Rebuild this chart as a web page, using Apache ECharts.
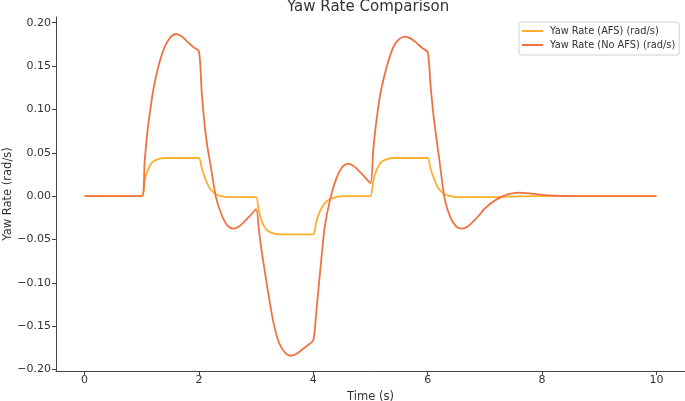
<!DOCTYPE html>
<html>
<head>
<meta charset="utf-8">
<script src="https://cdn.jsdelivr.net/npm/echarts@6/dist/echarts.min.js"></script>
<style>
    html, body { margin: 0; padding: 0; background: #fff; }
    #main { width: 685px; height: 401px; }
</style>
</head>
<body>
<div id="main"></div>
<script>
    // time samples (s), denser right after each steering switch
    var time_s = [
        0,
        1.0, 1.05, 1.1, 1.15, 1.2, 1.3, 1.4, 1.5, 1.6, 1.7, 1.8, 1.9,
        2.0, 2.05, 2.1, 2.15, 2.2, 2.3, 2.4, 2.5, 2.6, 2.7, 2.8, 2.9,
        3.0, 3.05, 3.1, 3.15, 3.2, 3.3, 3.4, 3.5, 3.6, 3.7, 3.8, 3.9,
        4.0, 4.05, 4.1, 4.15, 4.2, 4.3, 4.4, 4.5, 4.6, 4.7, 4.8, 4.9,
        5.0, 5.05, 5.1, 5.15, 5.2, 5.3, 5.4, 5.5, 5.6, 5.7, 5.8, 5.9,
        6.0, 6.05, 6.1, 6.15, 6.2, 6.3, 6.4, 6.5, 6.6, 6.7, 6.8, 6.9,
        7.0, 7.2, 7.4, 7.6, 7.8,
        8.0, 8.2, 8.4, 8.6,
        9.0, 10.0
    ];

    var yaw_afs = [
        0,
        0, 0.018, 0.029, 0.036, 0.040, 0.043, 0.044, 0.044, 0.044, 0.044, 0.044, 0.044,
        0.044, 0.032, 0.022, 0.014, 0.008, 0.002, 0.000, -0.001, -0.001, -0.001, -0.001, -0.001,
        -0.001, -0.018, -0.029, -0.036, -0.040, -0.043, -0.044, -0.044, -0.044, -0.044, -0.044, -0.044,
        -0.044, -0.030, -0.020, -0.013, -0.008, -0.003, -0.001, 0, 0, 0, 0, 0,
        0, 0.018, 0.029, 0.036, 0.040, 0.043, 0.044, 0.044, 0.044, 0.044, 0.044, 0.044,
        0.044, 0.032, 0.022, 0.014, 0.008, 0.002, 0.000, -0.001, -0.001, -0.001, -0.001, -0.001,
        -0.001, -0.001, -0.0005, -0.0003, 0,
        0, 0, 0, 0,
        0, 0
    ];

    var yaw_no_afs = [
        0,
        0, 0.040, 0.075, 0.100, 0.122, 0.152, 0.172, 0.183, 0.187, 0.184, 0.178, 0.172,
        0.167, 0.118, 0.082, 0.056, 0.037, -0.002, -0.022, -0.034, -0.0375, -0.035, -0.029, -0.022,
        -0.015, -0.040, -0.065, -0.086, -0.107, -0.145, -0.169, -0.180, -0.184, -0.182, -0.177, -0.172,
        -0.166, -0.135, -0.100, -0.066, -0.035, -0.002, 0.020, 0.033, 0.0375, 0.035, 0.029, 0.022,
        0.015, 0.055, 0.085, 0.109, 0.127, 0.153, 0.172, 0.181, 0.184, 0.182, 0.177, 0.171,
        0.166, 0.128, 0.094, 0.068, 0.044, -0.004, -0.025, -0.035, -0.0375, -0.035, -0.029, -0.022,
        -0.014, -0.004, 0.002, 0.004, 0.003,
        0.0015, 0.0005, 0.0002, 0,
        0, 0
    ];

    var x_ticks = [0, 2, 4, 6, 8, 10];
    var y_ticks = [-0.2, -0.15, -0.1, -0.05, 0, 0.05, 0.1, 0.15, 0.2];

    var font = 'DejaVu Sans';
    var text_color = '#333';
    var spine_color = '#444';

    function pairs(vals) {
        return time_s.map(function (t, i) { return [t, vals[i]]; });
    }

    var my_chart = echarts.init(document.getElementById('main'), null, { renderer: 'canvas' });
    var option = {
        backgroundColor: '#fff',
        animation: false,
        textStyle: { fontFamily: font, color: text_color },
        title: {
            text: 'Yaw Rate Comparison',
            left: 287,
            top: 0,
            padding: 0,
            textStyle: { fontFamily: font, fontSize: 15, fontWeight: 'normal', color: text_color }
        },
        legend: {
            orient: 'vertical',
            left: 519,
            top: 22,
            padding: [3, 4, 4, 3],
            itemGap: 2,
            itemWidth: 21,
            itemHeight: 2,
            icon: 'rect',
            borderColor: '#d0d0d0',
            borderWidth: 1,
            borderRadius: 3,
            backgroundColor: '#fff',
            textStyle: { fontFamily: font, fontSize: 9.8, color: text_color, lineHeight: 12, padding: [0, 0, 0, 2] }
        },
        grid: { left: 56, right: 0, top: 17, bottom: 30, containLabel: false, outerBoundsMode: 'none' },
        xAxis: {
            type: 'value',
            min: -0.5,
            max: 10.5,
            name: 'Time (s)',
            nameLocation: 'middle',
            nameGap: 20,
            nameMoveOverlap: false,
            nameTextStyle: { fontFamily: font, fontSize: 11.5, color: text_color },
            splitLine: { show: false },
            axisLine: { show: true, onZero: false, lineStyle: { color: spine_color, width: 1 } },
            axisTick: { show: true, inside: false, length: 4, customValues: x_ticks, lineStyle: { color: spine_color } },
            axisLabel: { customValues: x_ticks, margin: 4, fontFamily: font, fontSize: 11, color: text_color }
        },
        yAxis: {
            type: 'value',
            min: -0.2016,
            max: 0.2066,
            name: 'Yaw Rate (rad/s)',
            nameLocation: 'middle',
            nameGap: 42,
            nameMoveOverlap: false,
            nameTextStyle: { fontFamily: font, fontSize: 11.5, color: text_color },
            splitLine: { show: false },
            axisLine: { show: true, onZero: false, lineStyle: { color: spine_color, width: 1 } },
            axisTick: { show: true, inside: false, length: 4, customValues: y_ticks, lineStyle: { color: spine_color } },
            axisLabel: {
                customValues: y_ticks,
                margin: 5,
                fontFamily: font,
                fontSize: 11,
                color: text_color,
                formatter: function (v) { return v.toFixed(2).replace('-', '\u2212'); }
            }
        },
        series: [
            {
                name: 'Yaw Rate (AFS) (rad/s)',
                type: 'line',
                data: pairs(yaw_afs),
                showSymbol: false,
                smooth: 0.25,
                color: '#fbb02d',
                lineStyle: { width: 1.8, color: '#fbb02d' }
            },
            {
                name: 'Yaw Rate (No AFS) (rad/s)',
                type: 'line',
                data: pairs(yaw_no_afs),
                showSymbol: false,
                smooth: 0.25,
                color: '#ef7340',
                lineStyle: { width: 1.8, color: '#ef7340' }
            }
        ]
    };

    my_chart.setOption(option);
</script>
</body>
</html>
